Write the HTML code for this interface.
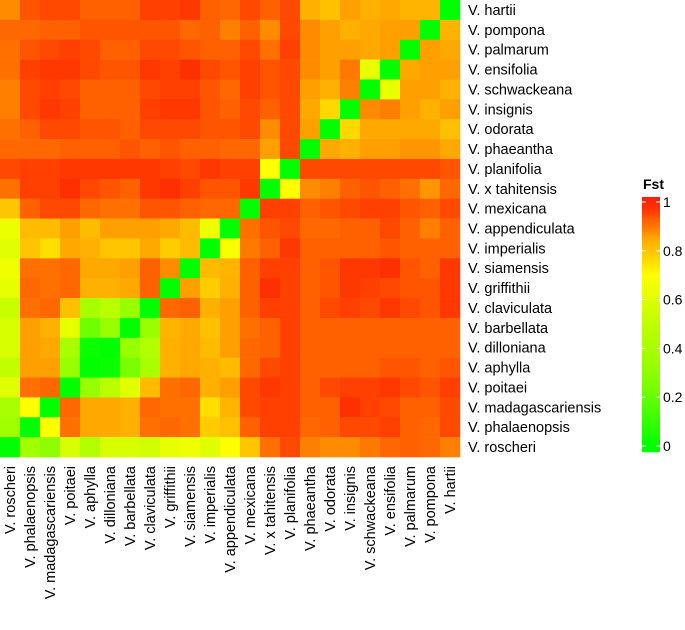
<!DOCTYPE html>
<html><head><meta charset="utf-8"><style>
html,body{margin:0;padding:0;background:#fff;}
svg{display:block;font-family:"Liberation Sans",Arial,sans-serif;}
</style></head><body>
<svg id="chart" width="685" height="630" viewBox="0 0 685 630" xmlns="http://www.w3.org/2000/svg">
<g id="cells"></g>
<g id="rowlabels"></g>
<g id="collabels"></g>
<g id="legend"></g>
</svg>
<script>
// Species (columns left->right; rows bottom->top)
const species = ["V. roscheri","V. phalaenopsis","V. madagascariensis","V. poitaei","V. aphylla","V. dilloniana","V. barbellata","V. claviculata","V. griffithii","V. siamensis","V. imperialis","V. appendiculata","V. mexicana","V. x tahitensis","V. planifolia","V. phaeantha","V. odorata","V. insignis","V. schwackeana","V. ensifolia","V. palmarum","V. pompona","V. hartii"];
// Fst rows, listed top (V. hartii) to bottom (V. roscheri); columns follow species order
const fstRows = [
[.88,.94,.95,.95,.93,.93,.93,.96,.96,.97,.93,.92,.95,.93,.95,.84,.81,.86,.84,.85,.83,.83,0],
[.92,.92,.93,.93,.94,.94,.94,.94,.94,.92,.93,.89,.93,.88,.95,.88,.86,.84,.85,.86,.86,0,.83],
[.91,.94,.95,.96,.95,.93,.93,.95,.95,.94,.93,.93,.95,.91,.96,.88,.86,.86,.85,.86,0,.86,.85],
[.91,.96,.97,.97,.95,.94,.94,.97,.96,.98,.95,.94,.96,.94,.95,.88,.86,.90,.62,0,.85,.86,.86],
[.89,.95,.96,.95,.93,.93,.93,.95,.96,.96,.94,.92,.96,.94,.95,.86,.84,.89,0,.62,.86,.86,.84],
[.89,.95,.97,.96,.93,.93,.93,.96,.97,.97,.94,.93,.95,.93,.95,.85,.77,0,.88,.89,.86,.84,.86],
[.91,.93,.95,.95,.94,.94,.93,.95,.95,.95,.94,.94,.95,.88,.95,.86,0,.77,.85,.85,.85,.85,.81],
[.92,.92,.92,.93,.93,.93,.94,.93,.94,.93,.93,.92,.92,.86,.95,0,.85,.84,.86,.86,.87,.87,.85],
[.95,.96,.96,.97,.97,.97,.97,.97,.96,.95,.97,.96,.96,.70,0,.95,.95,.95,.95,.95,.95,.95,.94],
[.91,.96,.96,.98,.95,.94,.93,.97,.98,.96,.94,.94,.97,0,.70,.88,.89,.93,.94,.93,.91,.87,.92],
[.80,.93,.95,.95,.92,.91,.91,.94,.94,.93,.92,.92,0,.96,.96,.93,.94,.95,.96,.96,.94,.93,.95],
[.65,.82,.82,.86,.82,.86,.86,.86,.85,.82,.65,0,.91,.94,.95,.92,.92,.93,.93,.95,.93,.89,.93],
[.60,.80,.76,.85,.84,.80,.80,.85,.79,.82,0,.68,.90,.93,.97,.93,.93,.93,.93,.94,.93,.93,.93],
[.66,.91,.91,.92,.85,.85,.86,.93,.88,0,.82,.83,.93,.96,.96,.93,.94,.97,.97,.98,.94,.93,.97],
[.62,.92,.91,.92,.84,.84,.85,.93,0,.86,.79,.84,.93,.98,.96,.93,.94,.97,.96,.95,.94,.94,.97],
[.53,.91,.92,.81,.40,.47,.33,0,.92,.93,.84,.86,.93,.96,.96,.93,.95,.96,.95,.97,.95,.94,.97],
[.58,.86,.84,.62,.22,.33,0,.33,.83,.85,.81,.86,.91,.93,.96,.93,.93,.93,.93,.93,.93,.93,.93],
[.58,.86,.85,.40,.02,0,.33,.44,.84,.85,.82,.86,.92,.93,.96,.93,.93,.93,.93,.93,.93,.93,.93],
[.50,.86,.86,.33,0,.02,.24,.40,.84,.85,.84,.82,.92,.95,.96,.93,.93,.93,.93,.94,.94,.93,.94],
[.60,.91,.92,0,.33,.47,.60,.82,.91,.92,.84,.86,.95,.97,.96,.93,.95,.96,.96,.97,.95,.94,.96],
[.40,.70,0,.92,.85,.85,.84,.92,.91,.91,.76,.83,.95,.96,.96,.93,.93,.98,.96,.95,.93,.93,.95],
[.37,0,.70,.91,.85,.85,.84,.91,.92,.91,.79,.81,.93,.96,.96,.92,.93,.95,.95,.96,.93,.92,.95],
[0,.37,.30,.58,.44,.58,.58,.56,.62,.66,.60,.70,.80,.91,.95,.89,.88,.88,.90,.92,.93,.92,.89]
];
const legendTicks = [0,0.2,0.4,0.6,0.8,1];

const NS="http://www.w3.org/2000/svg";
const n = species.length;
const cw = 20, ch = 457/23;
const xScale = c => c*cw;
const yScale = r => r*ch;
// colormap stops (green -> yellow at 0.7 -> red)
const stops=[[0,0,255],[0.24,120,255],[0.33,152,255],[0.4,168,255],[0.47,184,255],[0.5,192,255],[0.56,208,255],[0.6,224,255],[0.62,232,255],[0.66,240,255],[0.7,255,255],[0.77,255,216],[0.81,255,192],[0.84,255,176],[0.86,255,160],[0.89,255,128],[0.91,255,112],[0.93,255,96],[0.95,255,72],[0.96,255,64],[0.98,255,48],[1.05,255,20]];
function color(v){
  v=Math.max(0,Math.min(1.05,v));
  for(let i=1;i<stops.length;i++){
    if(v<=stops[i][0]){const a=stops[i-1],b=stops[i],t=(v-a[0])/(b[0]-a[0]);
      return `rgb(${Math.round(a[1]+t*(b[1]-a[1]))},${Math.round(a[2]+t*(b[2]-a[2]))},0)`;}
  }
  return "rgb(255,20,0)";
}
function mk(tag,attrs,parent){const e=document.createElementNS(NS,tag);for(const k in attrs)e.setAttribute(k,attrs[k]);parent.appendChild(e);return e;}

const cells=document.getElementById('cells');
fstRows.forEach((row,r)=>{
  row.forEach((v,c)=>{
    const el=mk('rect',{x:xScale(c),y:yScale(r),width:cw+0.3,height:ch+0.3,fill:color(v)},cells);
    
    
  });
});
const rl=document.getElementById('rowlabels');
for(let r=0;r<n;r++){
  const name=species[n-1-r];
  const t=mk('text',{x:468,y:yScale(r)+ch/2+5,'font-size':'14.5',fill:'#000'},rl);
  t.textContent=name;
  
  
}
const cl=document.getElementById('collabels');
for(let c=0;c<n;c++){
  const x=xScale(c)+cw/2+5, y=466;
  const t=mk('text',{x:x,y:y,'font-size':'14.5',fill:'#000','text-anchor':'end',transform:`rotate(-90 ${x} ${y})`},cl);
  t.textContent=species[c];
  
  
}
// legend
const lg=document.getElementById('legend');
const lY=v=>446-v*244;
const title=mk('text',{x:643,y:189,'font-size':'14','font-weight':'bold',fill:'#000'},lg);
title.textContent='Fst';


for(let y=197;y<452;y++){
  const v=(446-y)/244;
  const s=mk('rect',{x:642,y:y,width:18,height:1.2,fill:color(v)},lg);
  
  
}
legendTicks.forEach(v=>{
  const y=lY(v);
  mk('line',{x1:642,x2:646,y1:y,y2:y,stroke:'#fff','stroke-width':1},lg);
  mk('line',{x1:656,x2:660,y1:y,y2:y,stroke:'#fff','stroke-width':1},lg);
  const t=mk('text',{x:663,y:y+5,'font-size':'14',fill:'#000'},lg);
  t.textContent=String(v);
  
  
});
</script>
</body></html>
